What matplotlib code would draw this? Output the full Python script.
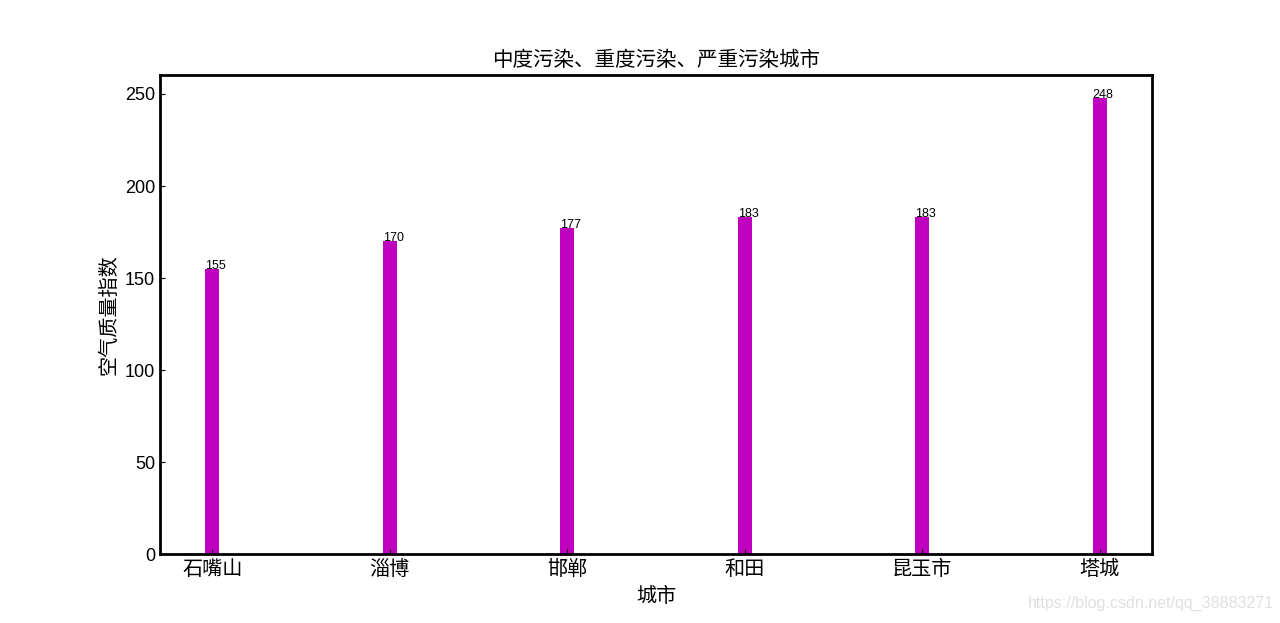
import matplotlib.pyplot as plt

plt.rcParams['font.family'] = ['Liberation Sans', 'Noto Sans CJK SC', 'DejaVu Sans']

# Data
cities = ["石嘴山", "淄博", "邯郸", "和田", "昆玉市", "塔城"]
aqi = [155, 170, 177, 183, 183, 248]

cn_font = ['Noto Sans CJK SC', 'DejaVu Sans']

fig = plt.figure(figsize=(12.8, 6.23), dpi=100)
ax = plt.gca()
x = list(range(len(cities)))
ax.bar(x, aqi, width=0.08, color='m')

for i, v in zip(x, aqi):
    ax.text(i - 0.04, v, str(v), fontsize=9, ha='left', va='baseline')

ax.tick_params(direction='in')
ax.tick_params(axis='y', labelsize=13)
ax.set_xticks(x)
ax.set_xticklabels(cities, family=cn_font, fontsize=14.5)
for s in ax.spines.values():
    s.set_linewidth(2)

ax.set_xlabel("城市", family=cn_font, fontsize=14.5)
ax.set_ylabel("空气质量指数", family=cn_font, fontsize=14.5)
ax.set_title("中度污染、重度污染、严重污染城市", family=cn_font, fontsize=14.8)

fig.text(0.995, 0.02, "https://blog.csdn.net/qq_38883271", color='#e0e0e0',
         fontsize=11.5, ha='right', va='bottom')

plt.savefig("out.png", dpi=100)
